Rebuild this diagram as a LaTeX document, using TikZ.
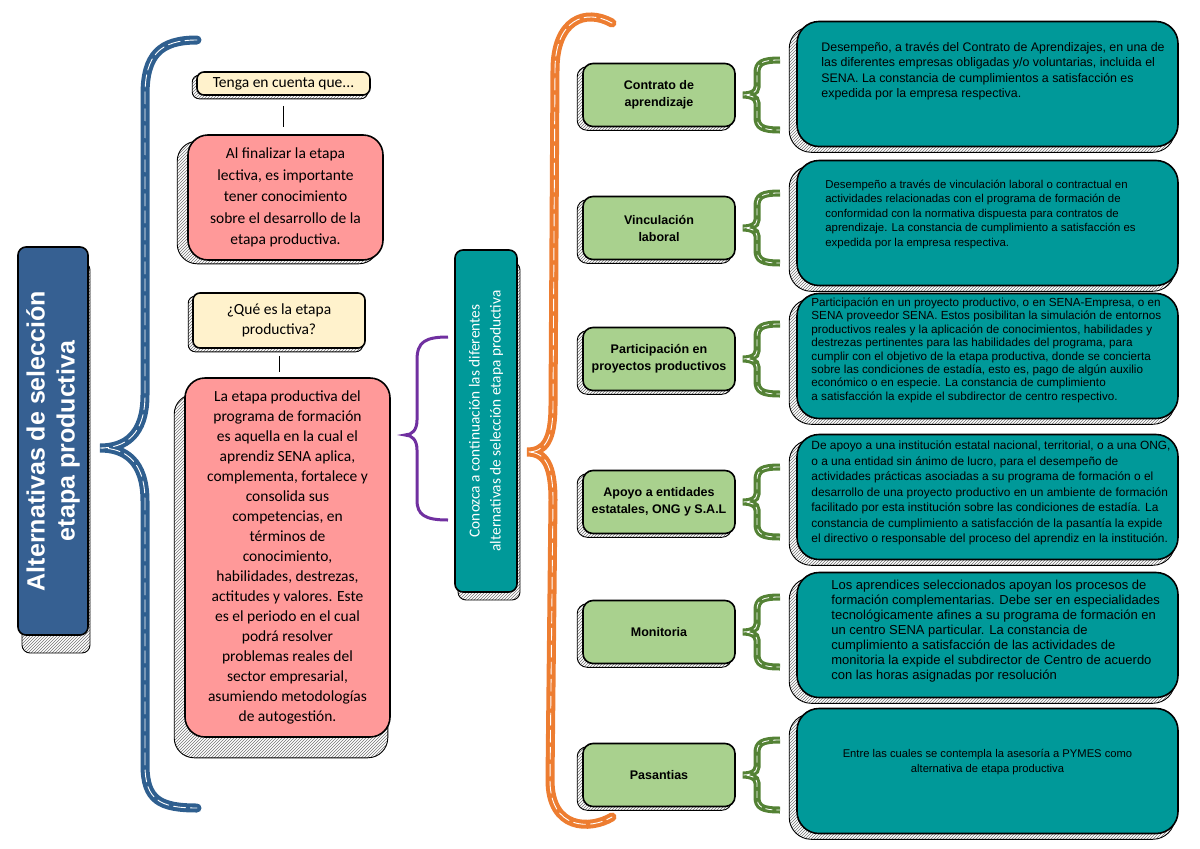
\documentclass[tikz,border=0pt]{standalone}
\usepackage{fontspec}
\setmainfont{Carlito}
\newfontfamily\arialfont{Liberation Sans}
\usepackage{xcolor}
\definecolor{TitleBlue}{HTML}{366092}
\definecolor{BraceBlue}{HTML}{2F5F8F}
\definecolor{TealBox}{HTML}{009999}
\definecolor{PinkBox}{HTML}{FF9999}
\definecolor{NoteYellow}{HTML}{FFF2CC}
\definecolor{LeafGreen}{HTML}{A9D18E}
\definecolor{BraceGreen}{HTML}{548235}
\definecolor{BraceOrange}{HTML}{ED7D31}
\definecolor{BracePurple}{HTML}{7030A0}
\usepackage{tikz}
\usetikzlibrary{positioning,calc,backgrounds,patterns}

\begin{document}
\begin{tikzpicture}[x=1pt, y=-1pt,
    card/.style={draw=black, line width=1.6pt, align=center, inner sep=3pt},
    shade/.style={draw=black, line width=0.9pt, pattern=north east lines, pattern color=black!55},
    notecard/.style={card, fill=NoteYellow, rounded corners=7pt, font=\fontsize{15.5}{20}\selectfont},
    pinkcard/.style={card, fill=PinkBox, rounded corners=20pt},
    leafcard/.style={card, fill=LeafGreen, rounded corners=10pt, minimum width=152pt, minimum height=63pt,
      font=\arialfont\bfseries\fontsize{12.5}{17}\selectfont},
    tealcard/.style={card, fill=TealBox, rounded corners=22pt, minimum width=381pt, minimum height=125pt},
    sidecard/.style={card, rotate=90, rounded corners=8pt, text=white},
    desc/.style 2 args={anchor=north west, align=left, inner sep=0pt, font=\arialfont\fontsize{#1}{#2}\selectfont},
    bigbrace/.style={draw=#1, line width=9pt, line cap=round,
      postaction={draw=white, line width=0.9pt, dash pattern=on 12pt off 5pt}},
    smallbrace/.style={draw=BraceGreen, line width=7pt,
      postaction={draw=white, line width=0.8pt, dash pattern=on 7pt off 4pt}}]
  \useasboundingbox (0,0) rectangle (1200,849);

  % Title and its brace
  \path[shade, rounded corners=8pt] (22,262) rectangle (90,653);
  \node[sidecard, fill=TitleBlue, minimum width=388pt, minimum height=70pt,
    font=\arialfont\bfseries\fontsize{25}{30}\selectfont] (title) at (53,441)
    {Alternativas de selección\\etapa productiva};
  \draw[bigbrace=BraceBlue] (197,40) .. controls (160,40) and (145,55) .. (145,95)
    -- (145,395) .. controls (145,435) and (125,448) .. (100,448)
    .. controls (125,448) and (145,461) .. (145,501)
    -- (145,765) .. controls (145,800) and (160,808) .. (197,808);

  % Left column: questions and answers
  \node[notecard, inner sep=1pt, minimum width=173pt, minimum height=23pt] (note1) at (283.5,83.5) {Tenga en cuenta que...};
  \node[pinkcard, minimum width=195pt, minimum height=125pt, font=\fontsize{15.5}{21.5}\selectfont] (pink1) at (285.5,197.5)
    {Al finalizar la etapa\\lectiva, es importante\\tener conocimiento\\sobre el desarrollo de la\\etapa productiva.};
  \node[notecard, minimum width=172pt, minimum height=55pt] (note2) at (279,320.5) {¿Qué es la etapa\\productiva?};
  \node[pinkcard, minimum width=205pt, minimum height=359pt, font=\fontsize{15.5}{20}\selectfont] (pink2) at (287.5,557.5)
    {La etapa productiva del\\programa de formación\\es aquella en la cual el\\aprendiz SENA aplica,\\complementa, fortalece y\\consolida sus\\competencias, en\\términos de\\conocimiento,\\habilidades, destrezas,\\actitudes y valores. Este\\es el periodo en el cual\\podrá resolver\\problemas reales del\\sector empresarial,\\asumiendo metodologías\\de autogestión.};
  \draw[line width=0.8pt, shorten <=10pt, shorten >=7pt] (note1.south) -- (note1.south |- pink1.north);
  \draw[line width=0.8pt, shorten <=7pt, shorten >=5pt] (note2.south) -- (note2.south |- pink2.north);
  \begin{scope}[on background layer]
    \path[shade, rounded corners=7pt] ($(note1.north west)+(-4,4)$) rectangle ($(note1.south east)+(-3,3)$);
    \path[shade, rounded corners=20pt] ($(pink1.north west)+(-10,7)$) rectangle ($(pink1.south east)+(-5,3)$);
    \path[shade, rounded corners=7pt] ($(note2.north west)+(-4,4)$) rectangle ($(note2.south east)+(-3,3)$);
    \path[shade, rounded corners=20pt] ($(pink2.north west)+(-10,17)$) rectangle ($(pink2.south east)+(-3,20)$);
  \end{scope}

  % Middle: intro box with braces
  \draw[BracePurple, line width=3pt] (448,337) .. controls (425,337) and (417,342) .. (417,360)
    -- (417,420) .. controls (417,430) and (412,435) .. (405,435)
    .. controls (412,435) and (417,440) .. (417,450)
    -- (417,500) .. controls (417,515) and (425,520) .. (448,520);
  \path[shade, rounded corners=8pt] (458,262) rectangle (520,600);
  \node[sidecard, fill=TealBox, minimum width=342pt, minimum height=62pt,
    font=\fontsize{15.3}{21}\selectfont] (intro) at (486,421)
    {Conozca a continuación las diferentes\\alternativas de selección etapa productiva};
  \draw[bigbrace=BraceOrange] (612,23) .. controls (585,8) and (555,20) .. (555,70)
    -- (553,405) .. controls (553,440) and (545,452) .. (527,452)
    .. controls (545,452) and (553,465) .. (553,500)
    -- (550,780) .. controls (550,830) and (590,830) .. (612,817);

  % Right column: alternatives
  \foreach \yc/\tc/\lbl [count=\i] in {95/84/{Contrato de\\aprendizaje}, 228/223/{Vinculación\\laboral},
      359/356/{Participación en\\proyectos productivos}, 502/497/{Apoyo a entidades\\estatales, ONG y S.A.L},
      632/635/Monitoria, 775/771/Pasantias} {
    \node[leafcard] (leaf\i) at (659,\yc) {\lbl};
    \node[tealcard] (info\i) at (987.5,\tc) {};
    \draw[smallbrace] (780,\yc-35) .. controls (762,\yc-35) and (757,\yc-32) .. (757,\yc-22)
      -- (757,\yc-8) .. controls (757,\yc-2) and (750,\yc) .. (743,\yc)
      .. controls (750,\yc) and (757,\yc+2) .. (757,\yc+8)
      -- (757,\yc+22) .. controls (757,\yc+32) and (762,\yc+35) .. (780,\yc+35);
    \begin{scope}[on background layer]
      \path[shade, rounded corners=10pt] ($(leaf\i.north west)+(-5,4)$) rectangle ($(leaf\i.south east)+(-4,3)$);
      \path[shade, rounded corners=22pt] ($(info\i.north west)+(-7,6)$) rectangle ($(info\i.south east)+(-4,5)$);
    \end{scope}
  }

  \node[desc={12.4}{15.5}] (text1) at ([shift={(25,21)}]info1.north west)
    {Desempeño, a través del Contrato de Aprendizajes, en una de\\las diferentes empresas obligadas y/o voluntarias, incluida el\\SENA. La constancia de cumplimientos a satisfacción es\\expedida por la empresa respectiva.};
  \node[desc={11.4}{14.5}] (text2) at ([shift={(29,20)}]info2.north west)
    {Desempeño a través de vinculación laboral o contractual en\\actividades relacionadas con el programa de formación de\\conformidad con la normativa dispuesta para contratos de\\aprendizaje. La constancia de cumplimiento a satisfacción es\\expedida por la empresa respectiva.};
  \node[desc={11.7}{13.4}] (text3) at ([shift={(15,5)}]info3.north west)
    {Participación en un proyecto productivo, o en SENA-Empresa, o en\\SENA proveedor SENA. Estos posibilitan la simulación de entornos\\productivos reales y la aplicación de conocimientos, habilidades y\\destrezas pertinentes para las habilidades del programa, para\\cumplir con el objetivo de la etapa productiva, donde se concierta\\sobre las condiciones de estadía, esto es, pago de algún auxilio\\económico o en especie. La constancia de cumplimiento\\a satisfacción la expide el subdirector de centro respectivo.};
  \node[desc={11.9}{15.5}] (text4) at ([shift={(15,7)}]info4.north west)
    {De apoyo a una institución estatal nacional, territorial, o a una ONG,\\o a una entidad sin ánimo de lucro, para el desempeño de\\actividades prácticas asociadas a su programa de formación o el\\desarrollo de una proyecto productivo en un ambiente de formación\\facilitado por esta institución sobre las condiciones de estadía. La\\constancia de cumplimiento a satisfacción de la pasantía la expide\\el directivo o responsable del proceso del aprendiz en la institución.};
  \node[desc={13}{15}] (text5) at ([shift={(35,8)}]info5.north west)
    {Los aprendices seleccionados apoyan los procesos de\\formación complementarias. Debe ser en especialidades\\tecnológicamente afines a su programa de formación en\\un centro SENA particular. La constancia de\\cumplimiento a satisfacción de las actividades de\\monitoria la expide el subdirector de Centro de acuerdo\\con las horas asignadas por resolución};
  \node[align=center, inner sep=0pt, font=\arialfont\fontsize{11.2}{15}\selectfont] (text6) at ([shift={(0,-9)}]info6.center)
    {Entre las cuales se contempla la asesoría a PYMES como\\alternativa de etapa productiva};
\end{tikzpicture}
\end{document}
